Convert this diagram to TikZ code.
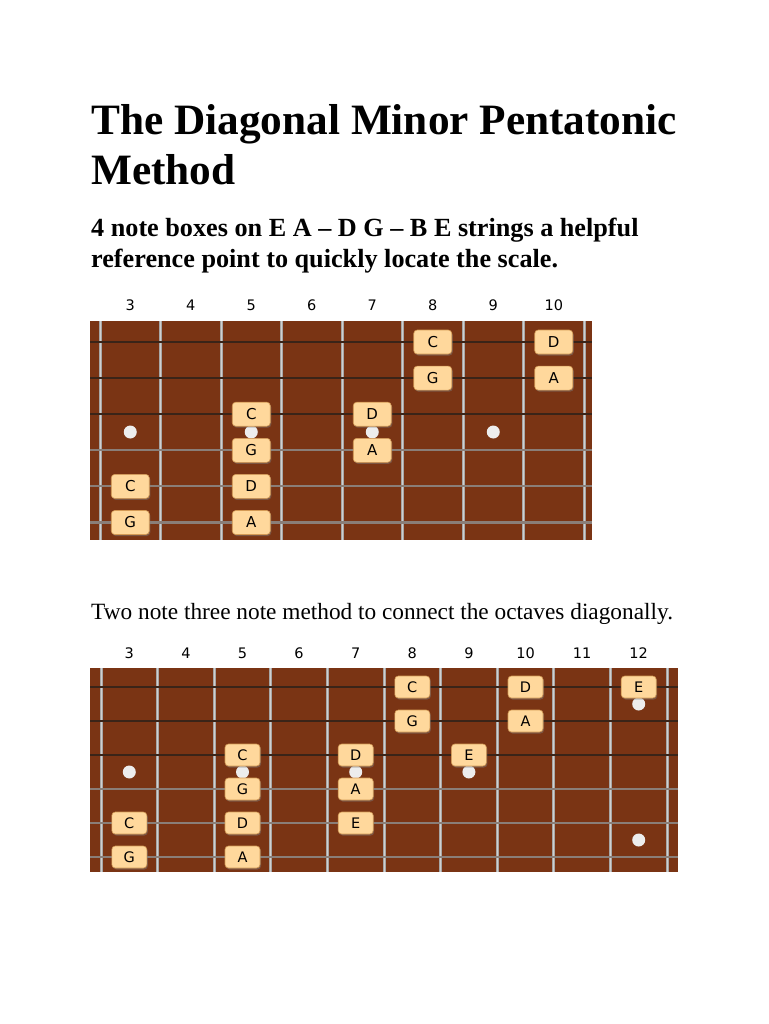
\documentclass[tikz,border=0pt]{standalone}
\usepackage{fontspec}
\setmainfont{Liberation Serif}
\newfontfamily\notefont{DejaVu Sans}
\usetikzlibrary{shadows}
\definecolor{board}{HTML}{7A3414}
\definecolor{fretc}{HTML}{A6A6A6}
\definecolor{fretl}{HTML}{D0D0D0}
\definecolor{strdark}{HTML}{3A2418}
\definecolor{strgrey}{HTML}{8A7E78}
\definecolor{notefill}{HTML}{FFD89C}
\definecolor{noteedge}{HTML}{D49A55}
\definecolor{dotc}{HTML}{EDEDED}
\tikzset{
  x=1pt, y=-1pt,
  notebox/.style={draw=noteedge, line width=0.6pt, fill=notefill, rounded corners=3.5pt,
    minimum width=38pt, minimum height=24pt, inner sep=0pt,
    font=\notefont\fontsize{15}{15}\selectfont,
    drop shadow={opacity=0.45, shadow xshift=1pt, shadow yshift=-1.5pt}},
  notebox2/.style={notebox, minimum width=35pt, minimum height=22pt, font=\notefont\fontsize{14.5}{15}\selectfont},
  fretnum/.style={font=\notefont\fontsize{14.5}{15}\selectfont, inner sep=0pt, anchor=base},
  fretline/.style={draw=fretc, line width=3pt},
  fretlight/.style={draw=fretl, line width=0.8pt},
  dotmark/.style={circle, fill=dotc, minimum size=13pt, inner sep=0pt},
  titletext/.style={anchor=base west, inner sep=0pt, align=left},
}
\begin{document}
\begin{tikzpicture}
\useasboundingbox[fill=white] (0,0) rectangle (768,1024);
% texts (base anchor = baseline of the last line)
\node[titletext, font=\fontsize{43.3}{50}\selectfont\bfseries] (title) at (91,185)
  {The Diagonal Minor Pentatonic\\Method};
\node[titletext, font=\fontsize{26.2}{31}\selectfont\bfseries] (sub) at (91,267)
  {4 note boxes on E A -- D G -- B E strings a helpful\\reference point to quickly locate the scale.};
\node[titletext, font=\fontsize{23.3}{26}\selectfont] (text2) at (91,619)
  {Two note three note method to connect the octaves diagonally.};

% ===== Board 1 =====
\fill[board] (90,321) rectangle (592,540);
\foreach \i in {0,...,8} {
  \draw[fretline] (100+60.5*\i,321) -- (100+60.5*\i,540);
  \draw[fretlight] (100+60.5*\i,321) -- (100+60.5*\i,540);
}
\foreach \s/\c/\w in {1/strdark/2.2,2/strdark/1.8,3/strdark/1.6,4/strgrey/1.8,5/strgrey/2,6/strgrey/2.2} {
  \draw[draw=\c, line width=\w pt] (90,342+36.1*\s-36.1) -- (592,342+36.1*\s-36.1);
}
\foreach \n in {3,...,10} {
  \node[fretnum] (a-num\n) at (130.25+60.5*\n-181.5,310) {\n};
}
\foreach \n in {3,5,7,9} {
  \node[dotmark] (a-dot\n) at (130.25+60.5*\n-181.5,432) {};
}
\foreach \s/\n/\t in {1/8/C,1/10/D,2/8/G,2/10/A,3/5/C,3/7/D,4/5/G,4/7/A,5/3/C,5/5/D,6/3/G,6/5/A} {
  \node[notebox] (a-s\s-f\n) at (130.25+60.5*\n-181.5,342+36.1*\s-36.1) {\t};
}

% ===== Board 2 =====
\fill[board] (90,668) rectangle (678,872);
\foreach \i in {0,...,10} {
  \draw[fretline] (101+56.6*\i,668) -- (101+56.6*\i,872);
  \draw[fretlight] (101+56.6*\i,668) -- (101+56.6*\i,872);
}
\foreach \s/\c/\w in {1/strdark/2.2,2/strdark/1.8,3/strdark/1.6,4/strgrey/1.8,5/strgrey/2,6/strgrey/2.2} {
  \draw[draw=\c, line width=\w pt] (90,687+34*\s-34) -- (678,687+34*\s-34);
}
\foreach \n in {3,...,12} {
  \node[fretnum] (b-num\n) at (129.3+56.6*\n-169.8,658) {\n};
}
\foreach \n in {3,5,7,9} {
  \node[dotmark] (b-dot\n) at (129.3+56.6*\n-169.8,772) {};
}
\node[dotmark] (b-dot12a) at (638.7,704) {};
\node[dotmark] (b-dot12b) at (638.7,840) {};
\foreach \s/\n/\t in {1/8/C,1/10/D,1/12/E,2/8/G,2/10/A,3/5/C,3/7/D,3/9/E,4/5/G,4/7/A,5/3/C,5/5/D,5/7/E,6/3/G,6/5/A} {
  \node[notebox2] (b-s\s-f\n) at (129.3+56.6*\n-169.8,687+34*\s-34) {\t};
}
\end{tikzpicture}
\end{document}
